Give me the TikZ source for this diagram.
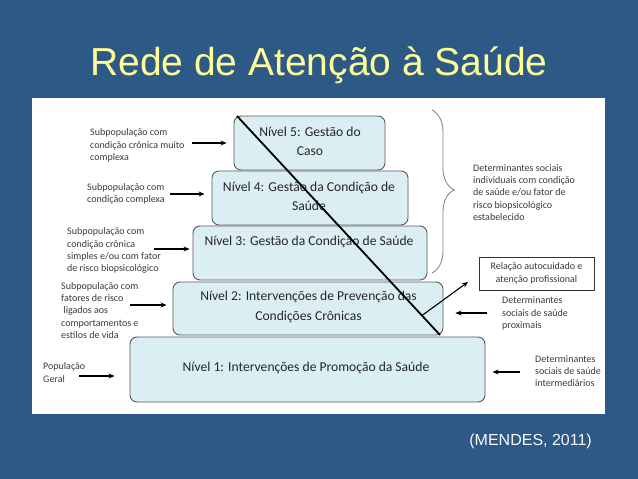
\documentclass[tikz,border=0pt]{standalone}
\usepackage{fontspec}
\setmainfont{Carlito}
\newfontfamily\arialfont{Liberation Sans}
\usetikzlibrary{decorations.pathreplacing,arrows.meta,calc}
\definecolor{bgblue}{HTML}{2D5986}
\definecolor{boxfill}{HTML}{DBEEF4}
\definecolor{titleyellow}{HTML}{FFFF99}
\definecolor{labgray}{HTML}{3A3A3A}
\begin{document}
\begin{tikzpicture}[x=1pt,y=-1pt,
  level/.style={draw=black!65, fill=boxfill, rounded corners=7pt, line width=0.9pt, inner sep=0pt},
  boxtxt/.style={font=\fontsize{13.6}{19.5}\selectfont, align=center, text=black!85, inner sep=0pt},
  sidelab/.style={font=\fontsize{10}{12.2}\selectfont, align=left, text=labgray, inner sep=0pt, anchor=west},
  arr/.style={-{Stealth[length=6pt,width=5pt]}, line width=1.1pt, black}]
\fill[bgblue] (0,0) rectangle (638,479);
\fill[white] (32,98) rectangle (605,414);
\useasboundingbox (0,0) rectangle (638,479);
% title and citation
\node[font=\arialfont\fontsize{39}{39}\selectfont, text=titleyellow, anchor=base, inner sep=0pt] (title) at (319,75) {Rede de Atenção à Saúde};
\node[font=\arialfont\fontsize{16}{16}\selectfont, text=white!95!gray, anchor=base east, inner sep=0pt] (cite) at (592,445) {(MENDES, 2011)};
% level boxes
\node[level, minimum width=355pt, minimum height=65pt] (box1) at (307.5,369.5) {};
\node[level, minimum width=270pt, minimum height=53pt] (box2) at (308,308.5) {};
\node[level, minimum width=234pt, minimum height=54pt] (box3) at (310,253) {};
\node[level, minimum width=196pt, minimum height=54pt] (box4) at (310,198) {};
\node[level, minimum width=151pt, minimum height=54pt] (box5) at (309.5,143) {};
\node[boxtxt] (t5) at (310,141.5) {Nível 5: Gestão do\\Caso};
\node[boxtxt] (t4) at (309,196.5) {Nível 4: Gestão da Condição de\\Saúde};
\node[boxtxt] (t3) at (309,242) {Nível 3: Gestão da Condição de Saúde};
\node[boxtxt] (t2) at (308.5,307) {Nível 2: Intervenções de Prevenção das\\Condições Crônicas};
\node[boxtxt] (t1) at (306,368) {Nível 1: Intervenções de Promoção da Saúde};
% diagonal
\coordinate (d1) at (237,116);
\coordinate (d2) at (440,335);
\draw[line width=1.8pt] (d1) -- (d2);
% relation box and arrow
\node[draw=black!80, line width=1pt, fill=white, minimum width=115pt, minimum height=33pt, align=center, font=\fontsize{10}{12.5}\selectfont, text=labgray, inner sep=0pt] (rel) at (536.5,273.5) {Relação autocuidado e\\atenção profissional};
\coordinate (r0) at ($(d1)!0.911!(d2)$);
\coordinate (r1) at (468,282);
\draw[arr] (r0) -- (r1);
% brace
\coordinate (br1) at (432,110);
\coordinate (br2) at (432,273);
\draw[decorate, decoration={brace, amplitude=22pt, aspect=0.49}, draw=black!50, line width=0.8pt] (br1) -- (br2);
% right labels
\node[sidelab] (detind) at (473,192.5) {Determinantes sociais\\individuais com condição\\de saúde e/ou fator de\\risco biopsicológico\\estabelecido};
\node[sidelab] (prox) at (502,313.5) {Determinantes\\sociais de saúde\\proximais};
\node[sidelab] (inter) at (535,371) {Determinantes\\sociais de saúde\\intermediários};
\coordinate (pa) at (487,313);
\coordinate (ia) at (520,372);
\draw[arr, shorten >=12pt] (pa) -- (pa -| box2.east);
\draw[arr, shorten >=7pt] (ia) -- (ia -| box1.east);
% left labels
\node[sidelab] (lab5) at (90,145.5) {Subpopulação com\\condição crônica muito\\complexa};
\node[sidelab] (lab4) at (87,194) {Subpopulação com\\condição complexa};
\node[sidelab] (lab3) at (67,250.5) {Subpopulação com\\condição crônica\\simples e/ou com fator\\de risco biopsicológico};
\node[sidelab] (lab2) at (61,310.5) {Subpopulação com\\fatores de risco\\\ ligados aos\\comportamentos e\\estilos de vida};
\node[sidelab] (lab1) at (43,372.5) {População\\Geral};
\coordinate (a5) at (192,143);
\coordinate (a4) at (170,194);
\coordinate (a3) at (154,249);
\coordinate (a2) at (130,305);
\coordinate (a1) at (79,376);
\draw[arr, shorten >=7pt] (a5) -- (a5 -| box5.west);
\draw[arr, shorten >=7pt] (a4) -- (a4 -| box4.west);
\draw[arr, shorten >=3pt] (a3) -- (a3 -| box3.west);
\draw[arr, shorten >=6pt] (a2) -- (a2 -| box2.west);
\draw[arr, shorten >=15pt] (a1) -- (a1 -| box1.west);
\end{tikzpicture}
\end{document}
